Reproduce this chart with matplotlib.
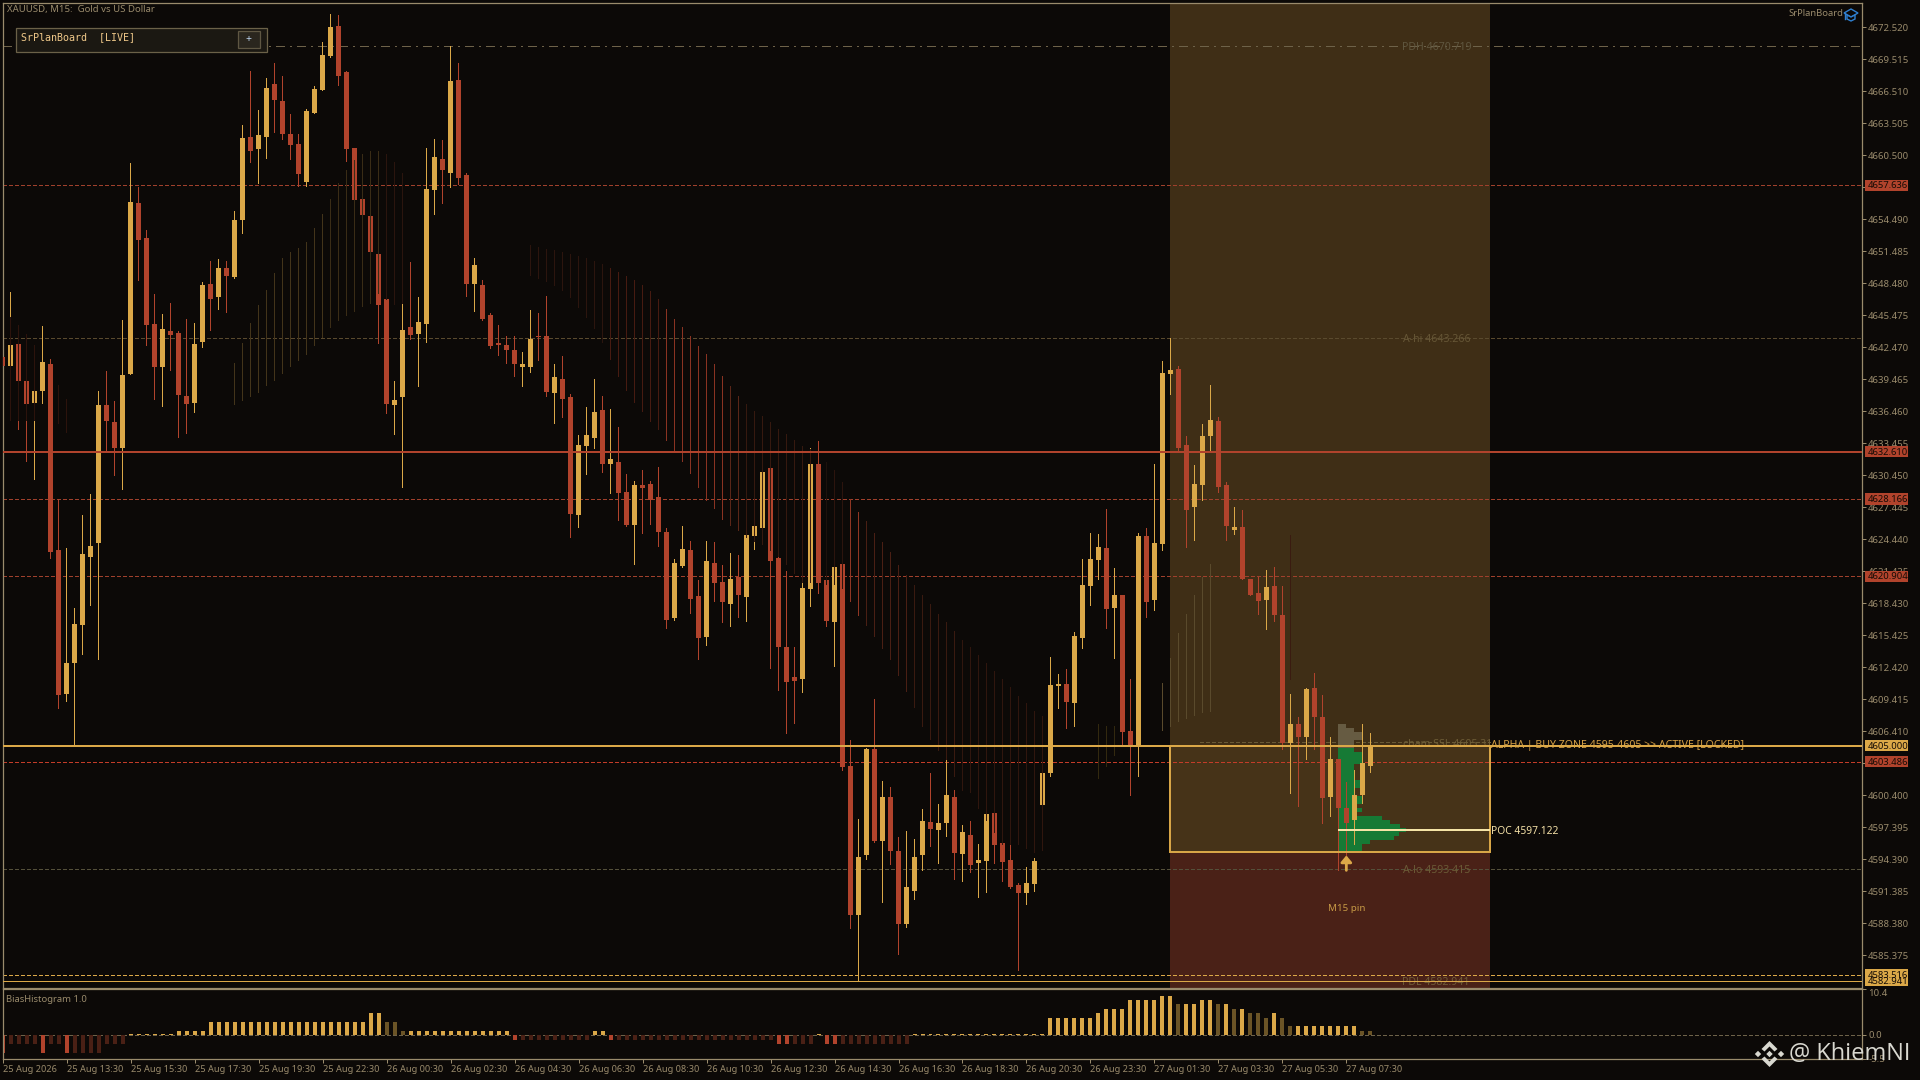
import matplotlib
matplotlib.use("Agg")
import matplotlib.pyplot as plt
from matplotlib.patches import Rectangle, Polygon
from matplotlib.transforms import ScaledTranslation

# ---------- data ----------
opens = [4641.5,4640.7,4642.7,4639.2,4637.2,4638.3,4640.8,4623.4,4609.9,4612.8,
4616.3,4622.7,4624.0,4637.0,4635.4,4633.0,4639.9,4656.0,4652.7,4644.6,
4640.6,4643.9,4643.8,4637.8,4637.2,4642.9,4648.4,4647.1,4649.9,4649.0,
4654.4,4662.2,4661.0,4662.2,4667.1,4665.5,4662.4,4661.5,4657.9,4664.4,
4666.6,4669.8,4672.6,4668.3,4661.1,4656.3,4654.7,4651.2,4646.9,4637.0,
4637.7,4644.3,4643.7,4644.6,4657.2,4660.1,4658.8,4667.5,4658.6,4648.4,
4648.3,4645.4,4642.8,4642.6,4642.2,4640.6,4640.6,4643.5,4643.5,4638.1,
4639.4,4637.7,4626.7,4633.1,4633.9,4636.5,4631.5,4631.6,4628.8,4625.7,
4629.5,4629.6,4628.4,4625.1,4617.0,4621.9,4623.4,4619.1,4615.2,4622.2,
4620.4,4618.3,4620.8,4619.0,4624.7,4625.4,4631.1,4622.6,4614.3,4611.5,
4611.3,4619.7,4631.5,4620.6,4616.6,4622.1,4603.1,4589.1,4594.7,4604.7,
4596.1,4600.2,4595.1,4588.3,4591.4,4594.7,4597.8,4597.1,4597.7,4600.2,
4594.8,4596.6,4594.0,4594.2,4598.7,4595.9,4594.3,4591.9,4591.2,4592.0,
4599.4,4602.4,4610.6,4610.8,4609.0,4615.1,4620.0,4622.4,4623.6,4617.9,
4619.2,4606.4,4605.0,4624.7,4618.7,4623.9,4639.9,4640.4,4633.2,4627.4,
4629.5,4634.1,4635.5,4629.5,4625.3,4625.5,4620.7,4619.3,4618.7,4620.0,
4617.3,4605.3,4607.0,4605.8,4610.4,4607.7,4600.2,4603.8,4599.2,4598.0,
4600.4,4603.1]
closes = [4640.7,4642.6,4639.2,4637.1,4638.3,4641.0,4623.2,4609.8,4612.8,4616.4,
4623.0,4623.8,4637.0,4635.5,4633.0,4639.8,4656.1,4652.5,4644.5,4640.6,
4644.1,4643.6,4637.9,4637.1,4642.7,4648.3,4646.9,4649.9,4649.1,4654.4,
4662.1,4660.8,4662.3,4666.8,4665.6,4662.4,4661.4,4658.7,4664.6,4666.7,
4669.9,4672.5,4667.9,4661.0,4656.2,4654.8,4651.4,4646.4,4637.1,4637.5,
4644.0,4643.6,4644.8,4657.3,4660.3,4659.1,4667.4,4658.3,4648.4,4650.1,
4645.1,4642.5,4642.6,4642.2,4640.8,4640.8,4643.2,4643.4,4638.2,4639.6,
4637.6,4626.8,4633.2,4634.2,4636.3,4631.5,4631.9,4628.7,4625.7,4629.5,
4629.2,4628.1,4625.1,4616.8,4622.2,4623.5,4618.8,4615.1,4622.3,4620.3,
4618.5,4620.7,4619.2,4624.8,4625.6,4630.7,4622.3,4614.3,4611.0,4611.1,
4619.8,4631.5,4620.3,4616.7,4621.8,4603.0,4589.1,4594.6,4604.7,4596.1,
4600.2,4595.1,4588.3,4591.7,4594.6,4597.9,4597.2,4597.7,4600.4,4594.9,
4596.9,4593.8,4594.3,4598.6,4595.7,4594.1,4591.7,4591.2,4592.1,4594.2,
4602.4,4610.7,4610.8,4609.1,4615.3,4620.1,4622.5,4623.7,4617.8,4619.2,
4606.3,4605.0,4624.7,4618.5,4624.0,4640.0,4640.3,4633.0,4627.1,4629.6,
4634.1,4635.6,4629.3,4625.6,4625.5,4620.7,4619.2,4618.6,4619.9,4617.3,
4605.3,4607.0,4605.8,4610.3,4607.7,4600.1,4603.8,4599.2,4597.7,4600.4,
4603.4,4604.9]
highs = [4641.5,4647.6,4642.7,4639.2,4638.3,4644.4,4641.3,4628.2,4623.6,4617.9,
4626.7,4628.6,4638.3,4640.2,4637.4,4645.0,4659.7,4657.5,4653.4,4647.4,
4645.5,4646.6,4643.9,4645.1,4644.7,4648.5,4650.5,4650.7,4650.5,4655.2,
4663.3,4668.4,4664.7,4667.7,4669.1,4667.9,4664.3,4662.4,4664.8,4666.9,
4671.1,4673.7,4673.6,4668.4,4661.1,4656.3,4654.7,4651.2,4646.9,4639.2,
4646.6,4650.4,4647.1,4661.1,4662.0,4661.9,4670.7,4669.1,4658.8,4650.8,
4648.7,4645.6,4644.5,4643.5,4643.5,4642.0,4645.9,4645.6,4647.2,4640.8,
4641.6,4638.0,4634.2,4636.8,4639.4,4637.8,4636.6,4634.9,4630.5,4629.9,
4630.9,4629.9,4631.2,4625.4,4622.5,4625.6,4624.2,4620.6,4624.2,4624.1,
4622.0,4623.1,4622.9,4624.8,4625.6,4630.7,4631.1,4622.8,4621.4,4614.3,
4620.6,4633.0,4633.6,4620.6,4621.8,4622.1,4605.5,4598.1,4604.8,4609.4,
4601.7,4601.1,4596.4,4597.0,4596.2,4599.1,4602.4,4599.5,4603.8,4600.8,
4597.6,4597.9,4595.8,4598.6,4598.7,4595.9,4595.9,4592.1,4593.6,4594.5,
4602.4,4613.3,4611.7,4612.2,4615.7,4622.5,4625.0,4624.9,4627.2,4621.7,
4619.2,4611.3,4625.0,4625.4,4631.5,4641.1,4643.3,4640.7,4634.1,4631.4,
4635.2,4638.9,4635.9,4629.8,4627.4,4627.1,4620.7,4620.8,4621.5,4621.8,
4620.0,4609.9,4607.7,4610.4,4611.8,4609.8,4605.8,4603.8,4601.6,4602.7,
4607.0,4606.2]
lows = [4640.7,4640.7,4634.7,4631.7,4630.0,4637.2,4622.6,4608.5,4609.2,4605.2,
4613.6,4618.2,4613.1,4632.6,4630.4,4629.1,4639.9,4648.7,4642.6,4637.6,
4636.9,4640.3,4634.0,4634.4,4636.3,4642.4,4644.0,4646.0,4645.7,4648.9,
4653.1,4659.8,4657.8,4660.2,4662.6,4662.0,4660.1,4657.6,4657.6,4664.4,
4666.6,4669.7,4667.0,4659.9,4656.2,4654.8,4651.4,4642.8,4636.2,4634.3,
4629.3,4643.2,4638.8,4642.9,4654.9,4656.0,4657.5,4657.7,4647.2,4645.8,
4645.0,4642.3,4641.7,4640.9,4639.7,4638.8,4640.1,4641.2,4637.8,4635.3,
4635.9,4624.6,4625.5,4630.5,4633.0,4630.7,4628.7,4626.2,4625.6,4622.1,
4625.0,4625.8,4623.8,4616.1,4616.8,4621.8,4617.5,4613.1,4614.5,4618.6,
4616.6,4616.2,4617.1,4616.7,4623.5,4625.4,4612.3,4610.2,4606.2,4607.1,
4610.0,4618.1,4619.3,4616.2,4612.5,4602.7,4587.9,4582.9,4594.4,4596.0,
4590.3,4593.9,4585.4,4588.0,4590.6,4593.3,4595.6,4594.0,4596.5,4592.5,
4592.3,4593.1,4590.8,4591.3,4594.0,4592.3,4591.6,4583.9,4590.1,4591.4,
4599.4,4602.2,4608.5,4606.7,4606.9,4614.2,4618.2,4620.7,4616.1,4613.2,
4605.2,4600.4,4602.2,4617.1,4617.7,4623.4,4638.0,4632.7,4623.7,4624.3,
4628.1,4632.8,4628.8,4624.3,4624.9,4620.7,4619.2,4617.4,4616.0,4616.7,
4604.7,4600.6,4599.3,4603.8,4604.7,4597.7,4598.4,4593.3,4594.7,4595.8,
4599.6,4602.5]

ghost_bar = [1,2,3,4,7,8,
29,30,31,32,33,34,35,36,37,38,39,40,41,42,43,44,45,46,47,48,49,50,
66,67,68,69,70,71,72,73,74,75,76,77,78,79,80,81,82,83,84,85,86,87,88,89,90,
91,92,93,94,95,96,97,98,99,100,101,103,104,105,106,107,108,109,110,111,112,113,
114,115,116,117,118,119,120,121,122,123,124,125,126,127,128,129,130,
137,138,139,145,146,147,148,149,150,151,161]
ghost_top = [4645.3,4644.5,4643.7,4642.6,4638.9,4637.6,
4640.9,4642.8,4644.7,4646.4,4647.8,4649.4,4650.8,4651.4,4651.7,4652.3,4653.6,4654.9,4656.3,4657.8,4659.1,4660.0,4660.6,4660.8,4660.8,4660.6,4659.8,4658.8,
4652.0,4651.8,4651.6,4651.5,4651.4,4651.2,4651.0,4650.8,4650.5,4650.2,4649.9,4649.5,4649.1,4648.7,4648.3,4647.7,4646.9,4646.0,4645.1,4644.3,4643.5,4642.5,4641.8,4640.8,4639.7,
4638.8,4637.8,4637.1,4636.4,4636.0,4635.4,4634.7,4634.3,4633.7,4633.1,4632.9,4631.6,4630.9,4629.8,4628.2,4626.9,4626.1,4625.0,4624.1,4623.2,4622.0,4621.0,
4620.1,4619.2,4618.3,4617.4,4616.6,4615.8,4614.9,4614.3,4613.5,4612.8,4612.0,4611.3,4610.5,4609.7,4609.0,4608.3,4607.8,
4607.0,4606.9,4606.9,4610.9,4613.2,4615.6,4617.4,4619.2,4620.8,4622.1,4624.8]
ghost_bot = [4635.6,4635.6,4635.6,4635.6,4635.3,4634.5,
4637.1,4637.5,4637.8,4638.2,4638.9,4639.3,4640.0,4640.7,4641.2,4641.8,4642.6,4643.4,4644.3,4645.0,4645.4,4645.8,4646.3,4646.6,4647.5,4646.9,4646.5,4646.6,
4649.2,4648.9,4648.6,4648.3,4647.8,4647.1,4646.2,4645.3,4644.2,4642.9,4641.3,4639.7,4638.4,4637.3,4636.4,4635.5,4634.7,4633.7,4632.6,4631.7,4630.6,4629.3,4628.1,4627.3,4626.3,
4625.7,4625.3,4624.6,4624.2,4623.9,4623.4,4622.8,4622.1,4621.2,4620.4,4620.4,4620.2,4620.2,4619.8,4618.6,4617.3,4616.3,4615.3,4614.2,4613.1,4611.6,4610.1,
4608.6,4606.9,4605.6,4604.6,4603.8,4602.2,4600.8,4600.7,4599.2,4598.0,4596.9,4595.8,4595.8,4595.8,4595.4,4595.0,4595.2,
4602.0,4603.1,4604.1,4606.5,4606.9,4607.3,4607.6,4607.9,4608.2,4608.3,4611.3]

hist_vals = [-4,-2,-2,-2,-2,-4,-2,-2,-4,-4,-4,-4,-4,-2,-2,-2,
0.2,0.2,0.2,0.2,0.2,0.2,1,1,1,1,
3,3,3,3,3,3,3,3,3,3,3,3,3,3,3,3,3,3,3,3,5,5,3,3,1,
1,1,1,1,1,1,1,1,1,1,1,1,1,
-1,-1,-1,-1,-1,-1,-1,-1,-1,-1,1,1,
-1,-1,-1,-1,-1,-1,-1,-1,-1,-1,-1,-1,-1,-1,-1,-1,-1,-1,-1,-1,-1,
-2,-2,-2,-2,-2,0.2,-2,-2,-2,-2,-2,-2,-2,-2,-2,-2,-2,
0.2,0.2,0.2,0.2,0.2,0.2,0.2,0.2,0.2,0.2,0.2,0.2,0.2,0.2,0.2,0.2,0.2,
4,4,4,4,4,4,5,6,6,6,8,8,8,8,9,9,7,7,7,8,8,7,7,6,6,5,5,4,5,4,2,2,2,2,2,2,2,2,2,1,1]
hist_bright_red = [0,5,8,64,76,97,98,103,104]
hist_dim_gold = [48,49,50,147,152,154,156,157,158,160,161,170,171]

vp_levels = [4607.04,4606.66,4606.29,4605.91,4605.53,4605.16,4604.78,4604.41,4604.03,4603.66,
4603.28,4602.91,4602.53,4602.15,4601.78,4601.40,4601.03,4600.65,4600.28,4599.90,
4599.52,4599.15,4598.77,4598.40,4598.02,4597.65,4597.27,4596.90,4596.52,4596.14,4595.77,4595.39]
vp_lengths = [1,2,3,3,2,2,2,3,3,3,2,2,2,2,3,3,2,2,3,3,2,3,2,5.5,6.5,7.8,8.5,7.6,7,4,3,3]

y_ticks = [4672.520,4669.515,4666.510,4663.505,4660.500,4657.495,4654.490,4651.485,4648.480,4645.475,
4642.470,4639.465,4636.460,4633.455,4630.450,4627.445,4624.440,4621.435,4618.430,4615.425,
4612.420,4609.415,4606.410,4603.405,4600.400,4597.395,4594.390,4591.385,4588.380,4585.375]
x_tick_bars = [0,8,16,24,32,40,48,56,64,72,80,88,96,104,112,120,128,136,144,152,160,168]
x_tick_labels = ["25 Aug 2026","25 Aug 13:30","25 Aug 15:30","25 Aug 17:30","25 Aug 19:30","25 Aug 22:30",
"26 Aug 00:30","26 Aug 02:30","26 Aug 04:30","26 Aug 06:30","26 Aug 08:30","26 Aug 10:30",
"26 Aug 12:30","26 Aug 14:30","26 Aug 16:30","26 Aug 18:30","26 Aug 20:30","26 Aug 23:30",
"27 Aug 01:30","27 Aug 03:30","27 Aug 05:30","27 Aug 07:30"]

PDH, L_RED1, A_HI, L_RED_SOLID, L_RED2, L_RED3 = 4670.719, 4657.636, 4643.266, 4632.610, 4628.166, 4620.904
SSL, ZONE_HI, L_RED4, POC, ZONE_LO, A_LO, L_GOLD, PDL = 4605.31, 4605.000, 4603.486, 4597.122, 4595.0, 4593.415, 4583.516, 4582.941
ZONE_BAR0, ZONE_BAR1 = 146, 186

# ---------- style ----------
BG, GOLD, RED, TAN = "#0c0907", "#dba848", "#b1432c", "#9a8b6c"
FONT = "Noto Sans"
plt.rcParams["font.family"] = [FONT, "DejaVu Sans"]
W, H = 1920, 1080
PX = 0.72
THIN = 0.7
THICK = 1.42
TXT_DY = 0.17  # price offset that centres a label on its level

def fx(px):
    return px / W
def fy(py):
    return 1 - py / H
def bar_of(px):
    return (px - 2.33) / 8.0

fig = plt.figure(figsize=(19.2, 10.8), dpi=100, facecolor=BG)
shift_down = ScaledTranslation(0, -1.0 / 100, fig.dpi_scale_trans)

def panel(x0, y0, x1, y1):
    a = fig.add_axes([fx(x0), fy(y1), fx(x1) - fx(x0), fy(y0) - fy(y1)], facecolor=BG)
    a.set_xlim(bar_of(x0), bar_of(x1))
    for s in a.spines.values():
        s.set_color(TAN)
        s.set_linewidth(0.9)
    return a

ax = panel(2.67, 2.5, 1862.3, 987.5)
ax.set_ylim(4582.30, 4674.785)
ax.set_xticks([])
ax.yaxis.tick_right()
ax.set_yticks(y_ticks)
ax.set_yticklabels([f"{v:.3f}" for v in y_ticks])
ax.tick_params(axis="y", colors=TAN, length=3, width=PX, pad=1.2, labelsize=6.9)
for t in ax.get_yticklabels():
    t.set_transform(t.get_transform() + shift_down)

# zones
ax.axvspan(ZONE_BAR0, ZONE_BAR1, ymin=0, ymax=1, color="#3f2e16", lw=0, zorder=0.5)
ax.add_patch(Rectangle((ZONE_BAR0, ZONE_LO), ZONE_BAR1 - ZONE_BAR0, ZONE_HI - ZONE_LO, fc="#463318", lw=0, zorder=0.6))
ax.add_patch(Rectangle((ZONE_BAR0, 4582.30), ZONE_BAR1 - ZONE_BAR0, ZONE_LO - 4582.30, fc="#4a2117", lw=0, zorder=0.6))

# dashed levels
DASH = (0, (4, 3))
for lvl, col, ls in [(PDH, "#6e6249", (0, (9, 6, 2, 6))), (L_RED1, "#a0402c", DASH), (A_HI, "#5a4a2e", DASH),
                     (L_RED2, "#a0402c", DASH), (L_RED3, "#a0402c", DASH), (L_RED4, "#c43c28", DASH),
                     (A_LO, "#55503a", DASH), (L_GOLD, GOLD, DASH)]:
    ax.axhline(lvl, color=col, lw=THIN, ls=ls, zorder=1.6, antialiased=False)
ax.hlines(SSL, bar_of(1200), ZONE_BAR1, color="#6a5a36", lw=THIN, ls=DASH, zorder=1.6, antialiased=False)

# volume profile
for lv, ln in zip(vp_levels, vp_lengths):
    col = "#665b42" if lv > ZONE_HI else "#167a35"
    ax.add_patch(Rectangle((167 - 0.06, lv - 0.376), ln, 0.376, fc=col, lw=0, zorder=1.8))

# candles
bars = list(range(len(opens)))
cols = [GOLD if c >= o else RED for o, c in zip(opens, closes)]
ax.vlines(bars, lows, highs, colors=cols, lw=THIN, zorder=3, antialiased=False)
ax.bar(bars, [abs(c - o) for o, c in zip(opens, closes)], bottom=[min(o, c) for o, c in zip(opens, closes)],
       width=5 / 8, color=cols, lw=0, zorder=3.1)

# faded envelope lines
def ghost_color(i):
    if i < 10: return "#2c130c"
    if i <= 40: return "#43341a"
    if i <= 47: return "#3a2c16"
    if i <= 50: return "#2b150e"
    if i <= 75: return "#2c150e"
    if i <= 82: return "#471b11"
    if i <= 90: return "#8a3322"
    if i <= 92: return "#5a2618"
    if i <= 101: return "#36190f"
    if i == 103: return "#1e120c"
    if i <= 105: return "#2c140d"
    if i <= 107: return "#8f3623"
    if i <= 113: return "#4a1f14"
    if i <= 119: return "#3a1a10"
    if i <= 130: return "#30160e"
    if i <= 139: return "#33290f"
    if i <= 151: return "#5a4a2c"
    return "#3a1b10"
ax.vlines(ghost_bar, ghost_bot, ghost_top, colors=[ghost_color(i) for i in ghost_bar], lw=THIN, zorder=3.5, antialiased=False)

# solid levels and boxes
ax.axhline(L_RED_SOLID, color=RED, lw=THICK, zorder=5, antialiased=False)
ax.axhline(ZONE_HI, color=GOLD, lw=THICK, zorder=5, antialiased=False)
ax.axhline(PDL, color=GOLD, lw=THIN, zorder=5, antialiased=False)
ax.add_patch(Rectangle((ZONE_BAR0, ZONE_LO), ZONE_BAR1 - ZONE_BAR0, ZONE_HI - ZONE_LO, fill=False, ec=GOLD, lw=THICK, zorder=5))
ax.hlines(POC, 167, ZONE_BAR1, color="#f5e4a6", lw=THICK, zorder=5.2, antialiased=False)

# arrow and labels inside the chart
ax.annotate("", xy=(168, 4594.7), xytext=(168, 4593.3),
            arrowprops=dict(arrowstyle="-|>,head_width=0.32,head_length=0.38", color=GOLD, lw=2, shrinkA=0, shrinkB=0), zorder=6)
ax.text(168, 4589.7, "M15 pin", color="#c79a45", fontsize=7, ha="center", va="center", zorder=6)
lab = dict(fontsize=7.6, va="center", ha="left", zorder=4.5)
ax.text(bar_of(1402), PDH - TXT_DY, "PDH 4670.719", color="#5f563f", **lab)
ax.text(bar_of(1403), A_HI - TXT_DY, "A-hi 4643.266", color="#665636", **lab)
ax.text(bar_of(1403), SSL - TXT_DY, "cham SSL 4605.31", color="#6d5c36", **lab)
ax.text(bar_of(1403), A_LO - TXT_DY, "A-lo 4593.415", color="#6b5a36", **lab)
ax.text(bar_of(1402), PDL - TXT_DY, "PDL 4582.941", color="#6f5c38", **lab)
ax.text(bar_of(1491), ZONE_HI, "ALPHA | BUY ZONE 4595-4605 >> ACTIVE [LOCKED]", color="#d49f45", fontsize=7.6, va="center", ha="left", zorder=4.5)
ax.text(bar_of(1491), POC - TXT_DY, "POC 4597.122", color="#f3dfa6", fontsize=7.4, va="center", ha="left", zorder=6)

# price tags on the right scale
for p, col in [(L_RED1, RED), (L_RED_SOLID, RED), (L_RED2, RED), (L_RED3, RED), (ZONE_HI, GOLD), (L_RED4, RED), (PDL, GOLD), (L_GOLD, GOLD)]:
    ax.add_patch(Rectangle((bar_of(1865), p - 0.52), 43.3 / 8, 1.04, fc=col, lw=0, zorder=10, clip_on=False))
    ax.text(bar_of(1867.3), p - 0.05, f"{p:.3f}", color="#140b05", fontsize=6.8, va="center", ha="left", zorder=11, clip_on=False)

# indicator panel
ax2 = panel(2.67, 989.4, 1862.3, 1059.3)
ax2.set_ylim(-5.5, 10.4)
ax2.set_yticks([10.4, 0.0, -5.5])
ax2.set_yticklabels(["10.4", "0.0", "-5.5"])
ax2.yaxis.tick_right()
ax2.tick_params(axis="y", colors=TAN, length=3, width=PX, pad=1.2, labelsize=6.9)
ax2.set_xticks(x_tick_bars)
ax2.set_xticklabels(x_tick_labels, ha="left")
ax2.tick_params(axis="x", colors=TAN, length=3, width=PX, pad=0.8, labelsize=6.6)
for t in ax2.get_yticklabels():
    t.set_va("top" if t.get_text() == "10.4" else "center")
ax2.axhline(0, color="#6e6249", lw=THIN, ls=(0, (4, 3)), zorder=1, antialiased=False)
def hist_color(i, v):
    if v < 0:
        return RED if i in hist_bright_red else "#4a2015"
    return "#6b5426" if i in hist_dim_gold else GOLD
ax2.bar(range(len(hist_vals)), hist_vals, width=4 / 8, lw=0, zorder=2,
        color=[hist_color(i, v) for i, v in enumerate(hist_vals)])
ax2.text(bar_of(6), 8.2, "BiasHistogram 1.0", color=TAN, fontsize=6.8, va="center", ha="left")

# overlay: chart furniture in screen position
ov = fig.add_axes([0, 0, 1, 1], facecolor="none", zorder=20)
ov.set_xlim(0, W)
ov.set_ylim(H, 0)
ov.axis("off")
ov.text(7, 9.5, "XAUUSD, M15:  Gold vs US Dollar", color=TAN, fontsize=6.9, va="center", ha="left")
ov.add_patch(Rectangle((15.5, 27.5), 251, 24, fc="#1b1812", ec="#6b6148", lw=0.9))
ov.text(21, 37.5, "SrPlanBoard  [LIVE]", color="#f0c98a", fontsize=7.2, family="DejaVu Sans Mono", va="center", ha="left")
ov.add_patch(Rectangle((237.5, 30.5), 22.5, 17.5, fc="#2a261e", ec="#5f5743", lw=0.9))
ov.text(248.8, 39.5, "+", color="#bcd4f0", fontsize=7.5, va="center", ha="center")
ov.text(1788.5, 14, "SrPlanBoard", color=TAN, fontsize=6.8, va="center", ha="left")
BLUE = "#2f7fd0"
ov.add_patch(Polygon([(1844, 13), (1851, 9), (1858, 13), (1851, 17)], closed=True, fc="#0c0907", ec=BLUE, lw=1.0))
ov.add_patch(Polygon([(1847, 15), (1847, 19), (1851, 21), (1855, 19), (1855, 15), (1851, 17)], closed=True, fc="#0c0907", ec=BLUE, lw=1.0))
ov.plot([1845, 1845], [13, 19], color=BLUE, lw=1.0)

WM = "#d9d8d0"
ov.text(1789, 1054, "@ KhiemNI", color=WM, fontsize=17, family="Open Sans", va="center", ha="left", zorder=30)
cx, cy = 1769.5, 1054
def diamond(x, y, r):
    ov.add_patch(Polygon([(x - r, y), (x, y - r), (x + r, y), (x, y + r)], closed=True, fc=WM, lw=0, zorder=30))
diamond(cx, cy, 3.2)
diamond(cx - 11.5, cy, 3.2)
diamond(cx + 11.5, cy, 3.2)
ov.add_patch(Polygon([(cx - 8, cy - 5), (cx, cy - 13), (cx + 8, cy - 5), (cx + 5, cy - 2.5), (cx, cy - 7.5), (cx - 5, cy - 2.5)], closed=True, fc=WM, lw=0, zorder=30))
ov.add_patch(Polygon([(cx - 8, cy + 5), (cx, cy + 13), (cx + 8, cy + 5), (cx + 5, cy + 2.5), (cx, cy + 7.5), (cx - 5, cy + 2.5)], closed=True, fc=WM, lw=0, zorder=30))

fig.savefig("out.png", dpi=100, facecolor=BG)
